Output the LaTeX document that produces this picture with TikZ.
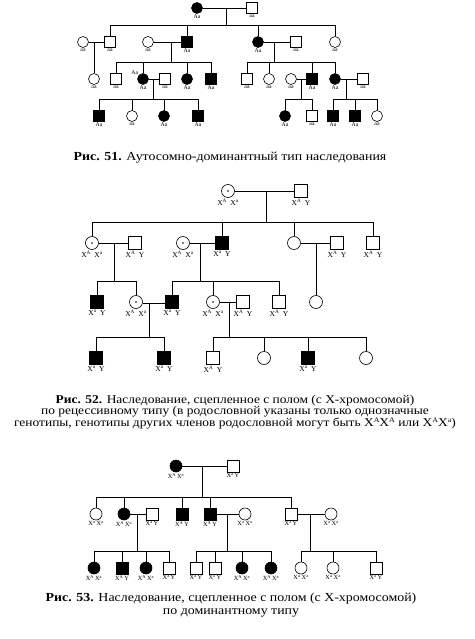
\documentclass[tikz,border=0pt]{standalone}
\usepackage{fontspec}
\setmainfont{Liberation Serif}
\newfontfamily\capfont{Liberation Serif}[FakeStretch=1.13]

\newlength{\gsep}
\setlength{\gsep}{1.5pt}
\newcommand{\gXX}[2]{X\textsuperscript{#1}\hspace{\gsep}X\textsuperscript{#2}}
\newcommand{\gXY}[1]{X\textsuperscript{#1}\hspace{\gsep}Y}
\newcommand{\capsup}[1]{\raisebox{0.75ex}{\fontsize{7}{7}\selectfont #1}}

\tikzset{
  sym/.style={minimum size=11pt},
  m/.style={draw, rectangle, inner sep=0pt, sym},
  f/.style={draw, circle, inner sep=0pt, sym},
  ill/.style={fill=black},
  cf/.style={f, path picture={\fill (path picture bounding box.center) circle (0.9pt);}},
  gt/.style={font=\fontsize{5.8}{6}\selectfont, inner sep=0.5pt},
  captxt/.style={align=center, inner sep=0pt},
}

\begin{document}
\begin{tikzpicture}[x=1pt, y=-1pt, line width=0.6pt]
\useasboundingbox (0,0) rectangle (474,639);

% Fig. 51
\node[f,ill,label={[gt]below:Aa}] (A1) at (197,8) {};
\node[m,label={[gt]below:aa}] (A2) at (252,8) {};
\draw (A1) -- (A2);
\coordinate (jA) at (226,25);
\draw (jA) -- (jA |- A1);

\node[f,label={[gt]below:aa}] (B1) at (83,42) {};
\node[m,label={[gt]below:aa}] (B2) at (110,42) {};
\node[f,label={[gt]below:aa}] (B3) at (148,42) {};
\node[m,ill,label={[gt]below:Aa}] (B4) at (187,42) {};
\node[f,ill,label={[gt]below:Aa}] (B5) at (258,42) {};
\node[m,label={[gt]below:aa}] (B6) at (296,42) {};
\node[f,label={[gt]below:aa}] (B7) at (335,42) {};
\draw (B2 |- jA) -- (B7 |- jA);
\draw (B2) -- (B2 |- jA);
\draw (B4) -- (B4 |- jA);
\draw (B5) -- (B5 |- jA);
\draw (B7) -- (B7 |- jA);
\draw (B1) -- (B2);
\draw (B3) -- (B4);
\draw (B5) -- (B6);

\node[f,label={[gt]below:aa}] (C1) at (94,79) {};
\node[m,label={[gt]below:aa}] (C2) at (116,79) {};
\node[f,ill,label={[gt]below:Aa},label={[gt]above left:Aa}] (C3) at (143,79) {};
\node[m,label={[gt]below:aa}] (C4) at (165,79) {};
\node[f,ill,label={[gt]below:Aa}] (C5) at (187,79) {};
\node[m,ill,label={[gt]below:Aa}] (C6) at (211,79) {};
\node[m,label={[gt]below:aa}] (C7) at (247,79) {};
\node[f,label={[gt]below:aa}] (C8) at (269,79) {};
\node[f,label={[gt]below:aa}] (C9) at (291,79) {};
\node[m,ill,label={[gt]below:Aa}] (C10) at (312,79) {};
\node[f,ill,label={[gt]below:Aa}] (C11) at (335,79) {};
\node[m,label={[gt]below:aa}] (C12) at (363,79) {};

\coordinate (jB1) at (94,42);
\draw (jB1) -- (C1);
\coordinate (jB2) at (171,62);
\draw (jB2) -- (jB2 |- B3);
\draw (C2 |- jB2) -- (C6 |- jB2);
\draw (C2) -- (C2 |- jB2);
\draw (C3) -- (C3 |- jB2);
\draw (C5) -- (C5 |- jB2);
\draw (C6) -- (C6 |- jB2);
\coordinate (jB3) at (274,62);
\draw (jB3) -- (jB3 |- B5);
\draw (C7 |- jB3) -- (C11 |- jB3);
\draw (C7) -- (C7 |- jB3);
\draw (C8) -- (C8 |- jB3);
\draw (C10) -- (C10 |- jB3);
\draw (C11) -- (C11 |- jB3);
\draw (C3) -- (C4);
\draw (C9) -- (C10);
\draw (C11) -- (C12);

\node[m,ill,label={[gt]below:Aa}] (D1) at (99,116) {};
\node[f,label={[gt]below:aa}] (D2) at (132,116) {};
\node[f,ill,label={[gt]below:Aa}] (D3) at (164,116) {};
\node[m,ill,label={[gt]below:Aa}] (D4) at (198,116) {};
\node[f,ill,label={[gt]below:Aa}] (D5) at (285,116) {};
\node[m,label={[gt]below:aa}] (D6) at (312,116) {};
\node[m,ill,label={[gt]below:Aa}] (D7) at (333,116) {};
\node[m,ill,label={[gt]below:Aa}] (D8) at (355,116) {};
\node[f,label={[gt]below:aa}] (D9) at (377,116) {};

\coordinate (jC1) at (153,99);
\draw (jC1) -- (jC1 |- C3);
\draw (D1 |- jC1) -- (D4 |- jC1);
\draw (D1) -- (D1 |- jC1);
\draw (D2) -- (D2 |- jC1);
\draw (D3) -- (D3 |- jC1);
\draw (D4) -- (D4 |- jC1);
\coordinate (jC2) at (301,99);
\draw (jC2) -- (jC2 |- C9);
\draw (D5 |- jC2) -- (D6 |- jC2);
\draw (D5) -- (D5 |- jC2);
\draw (D6) -- (D6 |- jC2);
\coordinate (jC3) at (346,99);
\draw (jC3) -- (jC3 |- C11);
\draw (D7 |- jC3) -- (D9 |- jC3);
\draw (D7) -- (D7 |- jC3);
\draw (D8) -- (D8 |- jC3);
\draw (D9) -- (D9 |- jC3);

\node[captxt, font=\capfont\fontsize{12.3}{12}\selectfont] (cap51) at (230,158)
{\textbf{Рис. 51.} Аутосомно-доминантный тип наследования};

% Fig. 52
\begin{scope}[sym/.style={minimum size=13pt},
  gt/.style={font=\fontsize{7.5}{7.5}\selectfont, inner sep=0.5pt}]
\setlength{\gsep}{3.5pt}
\node[cf,label={[gt]below:\gXX{A}{a}}] (P1) at (228,191) {};
\node[m,label={[gt]below:\gXY{A}}] (P2) at (301,191) {};
\draw (P1) -- (P2);
\coordinate (jP) at (266,222);
\draw (jP) -- (jP |- P1);

\node[cf,label={[gt]below:\gXX{A}{a}}] (Q1) at (92,243) {};
\node[m,label={[gt]below:\gXY{A}}] (Q2) at (135,243) {};
\node[cf,label={[gt]below:\gXX{A}{a}}] (Q3) at (183,243) {};
\node[m,ill,label={[gt]below:\gXY{a}}] (Q4) at (222,243) {};
\node[f] (Q5) at (294,243) {};
\node[m,label={[gt]below:\gXY{A}}] (Q6) at (337,243) {};
\node[m,label={[gt]below:\gXY{A}}] (Q7) at (373,243) {};
\draw (Q1 |- jP) -- (Q7 |- jP);
\draw (Q1) -- (Q1 |- jP);
\draw (Q4) -- (Q4 |- jP);
\draw (Q5) -- (Q5 |- jP);
\draw (Q7) -- (Q7 |- jP);
\draw (Q1) -- (Q2);
\draw (Q3) -- (Q4);
\draw (Q5) -- (Q6);

\node[m,ill,label={[gt]below:\gXY{a}}] (R1) at (97,302) {};
\node[cf,label={[gt]below:\gXX{A}{a}}] (R2) at (136,302) {};
\node[m,ill,label={[gt]below:\gXY{a}}] (R3) at (172,302) {};
\node[cf,label={[gt]below:\gXX{A}{a}}] (R4) at (213,302) {};
\node[m,label={[gt]below:\gXY{A}}] (R5) at (243,302) {};
\node[m,label={[gt]below:\gXY{A}}] (R6) at (279,302) {};
\node[f] (R7) at (316,302) {};

\coordinate (jQ1) at (114,281);
\draw (jQ1) -- (jQ1 |- Q1);
\draw (R1 |- jQ1) -- (R2 |- jQ1);
\draw (R1) -- (R1 |- jQ1);
\draw (R2) -- (R2 |- jQ1);
\coordinate (jQ2) at (200,281);
\draw (jQ2) -- (jQ2 |- Q3);
\draw (R3 |- jQ2) -- (R6 |- jQ2);
\draw (R3) -- (R3 |- jQ2);
\draw (R4) -- (R4 |- jQ2);
\draw (R6) -- (R6 |- jQ2);
\coordinate (jQ3) at (316,243);
\draw (jQ3) -- (R7);
\draw[double, double distance=1.8pt] (R2) -- (R3);
\draw (R4) -- (R5);

\node[m,ill,label={[gt]below:\gXY{a}}] (S1) at (96,358) {};
\node[m,ill,label={[gt]below:\gXY{a}}] (S2) at (164,358) {};
\node[m,label={[gt]below:\gXY{A}}] (S3) at (213,358) {};
\node[f] (S4) at (264,358) {};
\node[m,ill,label={[gt]below:\gXY{a}}] (S5) at (308,358) {};
\node[f] (S6) at (366,358) {};

\coordinate (jR1) at (149,337);
\draw (jR1) -- ([yshift=-1.5pt]jR1 |- R2);
\draw (S1 |- jR1) -- (S2 |- jR1);
\draw (S1) -- (S1 |- jR1);
\draw (S2) -- (S2 |- jR1);
\coordinate (jR2) at (229,337);
\draw (jR2) -- (jR2 |- R4);
\draw (S3 |- jR2) -- (S6 |- jR2);
\draw (S3) -- (S3 |- jR2);
\draw (S4) -- (S4 |- jR2);
\draw (S5) -- (S5 |- jR2);
\draw (S6) -- (S6 |- jR2);
\end{scope}

\node[captxt, font=\capfont\fontsize{11.9}{11.6}\selectfont] (cap52) at (235,412)
{\textbf{Рис. 52.} Наследование, сцепленное с полом (с Х-хромосомой)\\
по рецессивному типу (в родословной указаны только однозначные\\
генотипы, генотипы других членов родословной могут быть X\capsup{A}X\capsup{A} или X\capsup{A}X\capsup{a})};

% Fig. 53
\begin{scope}[sym/.style={minimum size=12pt},
  gt/.style={font=\fontsize{6.3}{6.3}\selectfont, inner sep=0.5pt}]
\setlength{\gsep}{1pt}
\node[f,ill,label={[gt]below:\gXX{A}{a}}] (T1) at (176,466) {};
\node[m,label={[gt]below:\gXY{a}}] (T2) at (233,466) {};
\draw (T1) -- (T2);
\coordinate (jT) at (202,497);
\draw (jT) -- (jT |- T1);

\node[f,label={[gt]below:\gXX{a}{a}}] (U1) at (96,514) {};
\node[f,ill,label={[gt]below:\gXX{A}{a}}] (U2) at (124,514) {};
\node[m,label={[gt]below:\gXY{a}}] (U3) at (152,514) {};
\node[m,ill,label={[gt]below:\gXY{A}}] (U4) at (182,514) {};
\node[m,ill,label={[gt]below:\gXY{A}}] (U5) at (210,514) {};
\node[f,label={[gt]below:\gXX{a}{a}}] (U6) at (245,514) {};
\node[m,label={[gt]below:\gXY{a}}] (U7) at (291,514) {};
\node[f,label={[gt]below:\gXX{a}{a}}] (U8) at (331,514) {};
\draw (U1 |- jT) -- (U7 |- jT);
\draw (U1) -- (U1 |- jT);
\draw (U2) -- (U2 |- jT);
\draw (U4) -- (U4 |- jT);
\draw (U5) -- (U5 |- jT);
\draw (U7) -- (U7 |- jT);
\draw (U2) -- (U3);
\draw (U5) -- (U6);
\draw (U7) -- (U8);

\node[f,ill,label={[gt]below:\gXX{A}{a}}] (V1) at (94,568) {};
\node[m,ill,label={[gt]below:\gXY{A}}] (V2) at (122,568) {};
\node[f,ill,label={[gt]below:\gXX{A}{a}}] (V3) at (146,568) {};
\node[m,label={[gt]below:\gXY{a}}] (V4) at (169,568) {};
\node[m,label={[gt]below:\gXY{a}}] (V5) at (196,568) {};
\node[m,label={[gt]below:\gXY{a}}] (V6) at (215,568) {};
\node[f,ill,label={[gt]below:\gXX{A}{a}}] (V7) at (242,568) {};
\node[f,ill,label={[gt]below:\gXX{A}{a}}] (V8) at (271,568) {};
\node[f,label={[gt]below:\gXX{a}{a}}] (V9) at (301,568) {};
\node[f,label={[gt]below:\gXX{a}{a}}] (V10) at (333,568) {};
\node[m,label={[gt]below:\gXY{a}}] (V11) at (376,568) {};

\coordinate (jU1) at (137,551);
\draw (jU1) -- (jU1 |- U2);
\draw (V1 |- jU1) -- (V4 |- jU1);
\draw (V1) -- (V1 |- jU1);
\draw (V2) -- (V2 |- jU1);
\draw (V3) -- (V3 |- jU1);
\draw (V4) -- (V4 |- jU1);
\coordinate (jU2) at (227,551);
\draw (jU2) -- (jU2 |- U5);
\draw (V5 |- jU2) -- (V8 |- jU2);
\draw (V5) -- (V5 |- jU2);
\draw (V6) -- (V6 |- jU2);
\draw (V7) -- (V7 |- jU2);
\draw (V8) -- (V8 |- jU2);
\coordinate (jU3) at (310,551);
\draw (jU3) -- (jU3 |- U7);
\draw (V9 |- jU3) -- (V11 |- jU3);
\draw (V9) -- (V9 |- jU3);
\draw (V10) -- (V10 |- jU3);
\draw (V11) -- (V11 |- jU3);
\end{scope}

\node[captxt, font=\capfont\fontsize{12.3}{13}\selectfont] (cap53) at (231,605)
{\textbf{Рис. 53.} Наследование, сцепленное с полом (с Х-хромосомой)\\
по доминантному типу};

\end{tikzpicture}
\end{document}
